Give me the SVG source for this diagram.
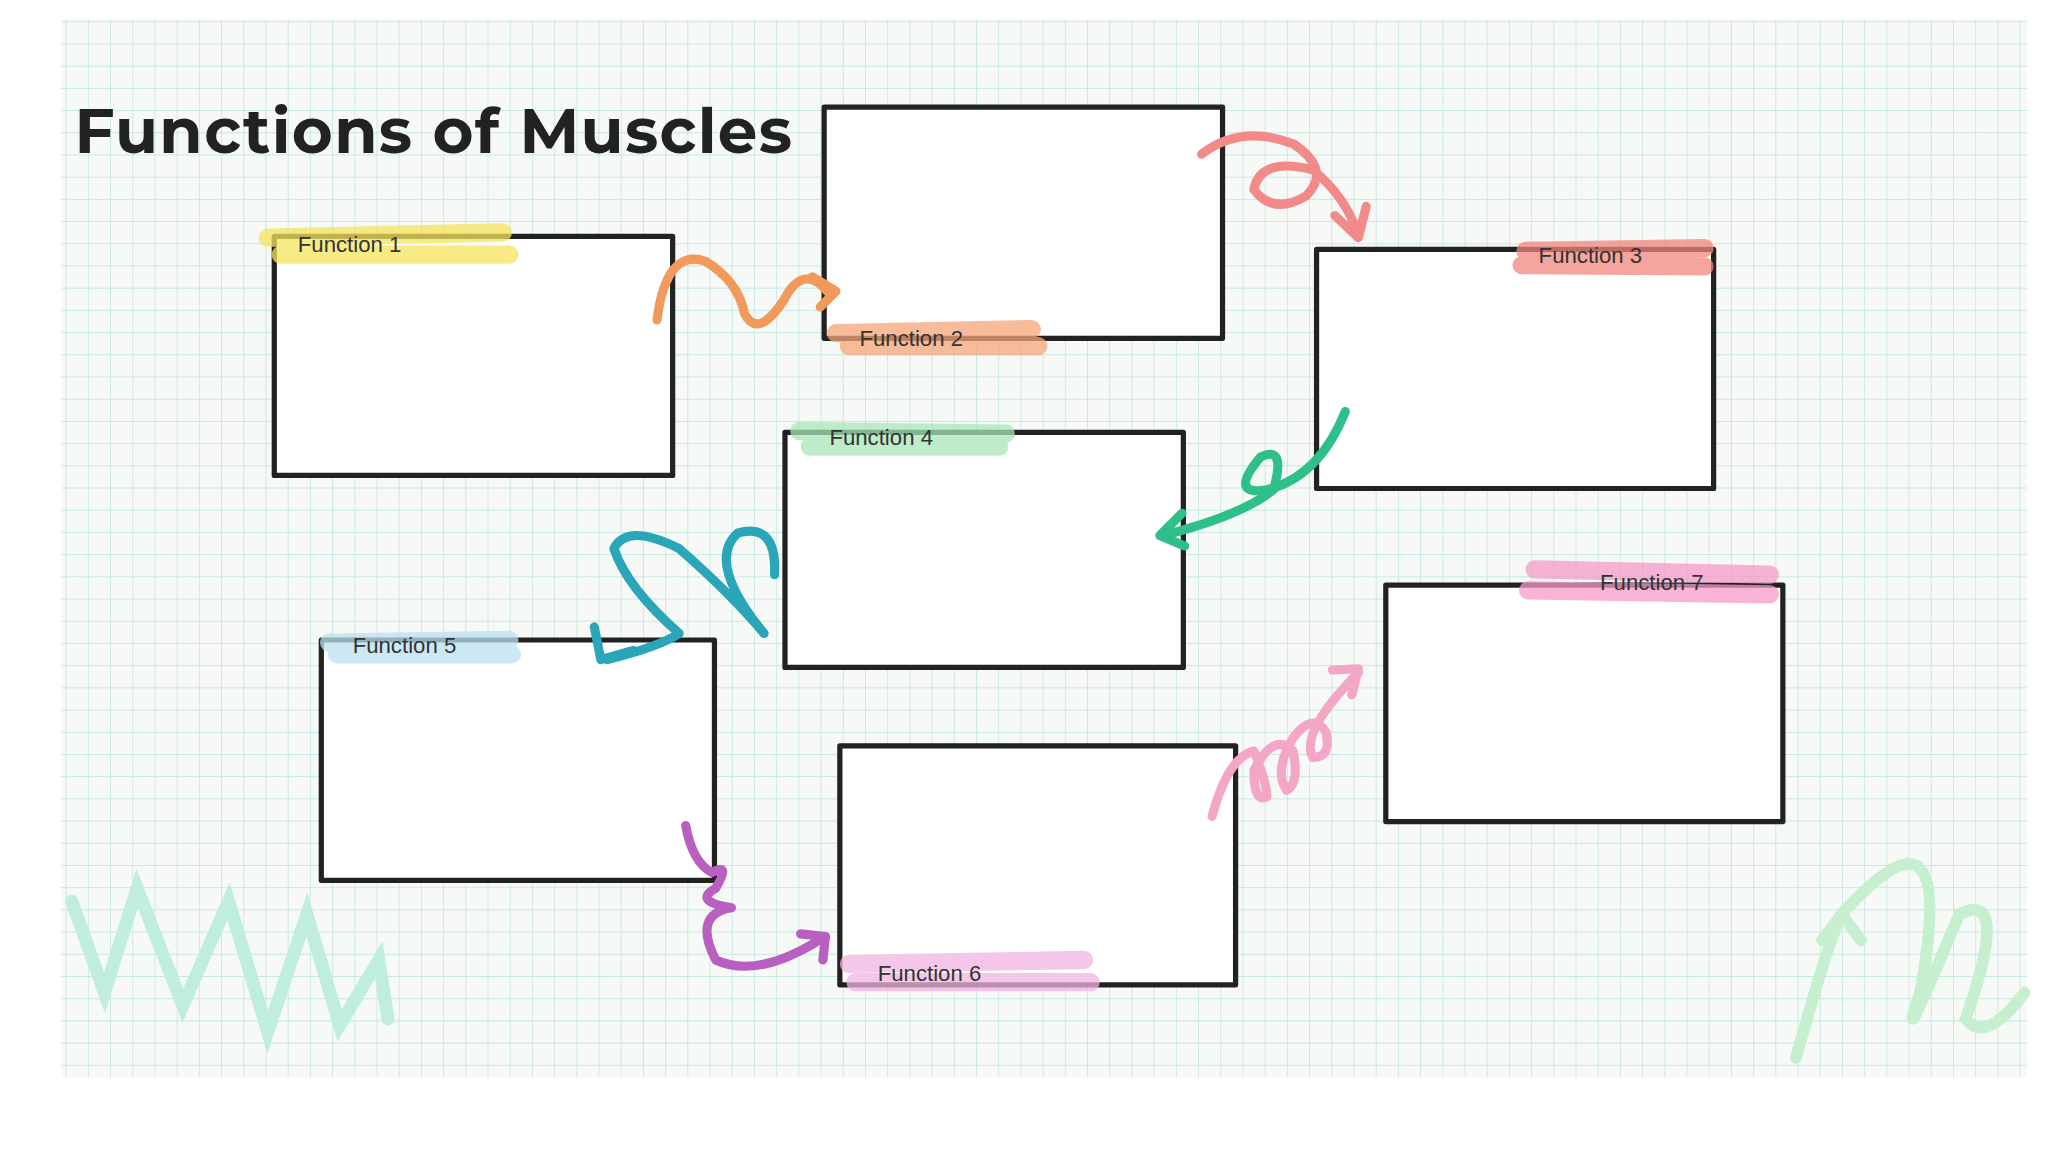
<svg xmlns="http://www.w3.org/2000/svg" width="2048" height="1152" viewBox="0 0 2048 1152">
<defs>
<pattern id="grid" width="17" height="17" patternUnits="userSpaceOnUse"><path d="M17 0V17M0 17H17" fill="none" stroke="#b5e2dc" stroke-width="1"/></pattern>
<style>
.box{fill:#fff;stroke:#222;stroke-width:4;stroke-linejoin:round}
.lbl{font-family:"Liberation Sans",sans-serif;font-size:17px;fill:#333}
.hl{stroke-width:14;stroke-linecap:round;fill:none;opacity:.75}
.c{fill:none;stroke-width:7;stroke-linecap:round;stroke-linejoin:round}
</style>
</defs>
<rect width="2048" height="1152" fill="#fff"/>
<g transform="scale(1.30612)">
<rect x="47" y="15" width="1505" height="810" fill="#f7f9f7"/>
<rect x="47" y="15" width="1505" height="810" fill="url(#grid)"/>
<path d="M55 690 L80 760 L105 680 L140 770 L175 690 L205 790 L235 700 L260 785 L290 735 L297 780" fill="none" stroke="#bfeedd" stroke-width="10" stroke-linecap="round"/>
<path d="M1375 810 Q1400 720 1410 700 M1395 720 L1410 700 L1425 720 M1410 700 Q1500 600 1470 760 Q1450 820 1500 700 Q1540 680 1505 780 Q1520 800 1550 760" fill="none" stroke="#c6efd0" stroke-width="9" stroke-linecap="round"/>
<text x="57" y="117" font-family="Montserrat,'Liberation Sans',sans-serif" font-weight="bold" font-size="48" letter-spacing="1" fill="#222">Functions of Muscles</text>
<g id="f1"><rect class="box" x="210" y="181" width="305" height="183"/><path class="hl" stroke="#f5e35c" d="M205 182 L385 178 M215 195 L390 195"/><text class="lbl" x="228" y="193">Function 1</text></g>
<g id="f2"><rect class="box" x="631" y="82" width="305" height="177"/><path class="hl" stroke="#f5a679" d="M640 255 L790 252 M650 265 L795 265"/><text class="lbl" x="658" y="265">Function 2</text></g>
<g id="f3"><rect class="box" x="1008" y="191" width="304" height="183"/><path class="hl" stroke="#f2867e" d="M1168 192 L1305 190 M1165 203 L1305 204"/><text class="lbl" x="1178" y="201">Function 3</text></g>
<g id="f4"><rect class="box" x="601" y="331" width="305" height="180"/><path class="hl" stroke="#a8e6b8" d="M612 330 L770 332 M620 342 L765 342"/><text class="lbl" x="635" y="341">Function 4</text></g>
<g id="f5"><rect class="box" x="246" y="490" width="301" height="184"/><path class="hl" stroke="#b9e0ef" d="M252 492 L390 490 M258 501 L392 501"/><text class="lbl" x="270" y="500">Function 5</text></g>
<g id="f6"><rect class="box" x="643" y="571" width="303" height="183"/><path class="hl" stroke="#f0b3e0" d="M650 738 L830 735 M655 752 L835 752"/><text class="lbl" x="672" y="751">Function 6</text></g>
<g id="f7"><rect class="box" x="1061" y="448" width="304" height="181"/><path class="hl" stroke="#f59ac8" d="M1175 436 L1355 440 M1170 452 L1355 455"/><text class="lbl" x="1225" y="452">Function 7</text></g>
<g id="connectors">
<path class="c" stroke="#f29a5c" d="M503 245 Q510 190 540 200 Q565 215 570 240 Q580 260 600 230 Q615 200 635 225 M622 212 L640 223 L628 235"/>
<path class="c" stroke="#f28a8a" d="M920 118 Q950 95 990 110 Q1020 130 1000 150 Q975 165 960 145 Q965 120 1005 130 Q1030 150 1040 180 M1022 165 L1040 182 L1046 158"/>
<path class="c" stroke="#2fbf8a" d="M1030 315 Q1010 365 970 375 Q940 380 965 350 Q985 340 975 375 Q950 395 890 410 M905 393 L888 410 L907 418"/>
<path class="c" stroke="#2aa6b8" d="M593 440 Q595 400 565 408 Q540 430 585 485 Q560 455 520 420 Q480 400 470 420 Q480 450 520 485 Q505 495 465 505 M455 480 L460 505 L485 498"/>
<path class="c" stroke="#b95fc0" d="M525 632 Q530 660 545 668 Q560 660 548 680 Q530 690 560 695 Q530 700 548 735 Q580 750 630 718 M613 715 L632 717 L630 735"/>
<path class="c" stroke="#f4a6c6" d="M928 625 Q940 580 960 575 Q970 600 970 610 Q960 615 960 590 Q975 560 990 575 Q995 600 985 605 Q975 590 990 565 Q1005 545 1015 560 Q1020 580 1005 580 Q995 560 1040 515 M1020 513 L1040 512 L1035 532"/>
</g>
</g>
</svg>
